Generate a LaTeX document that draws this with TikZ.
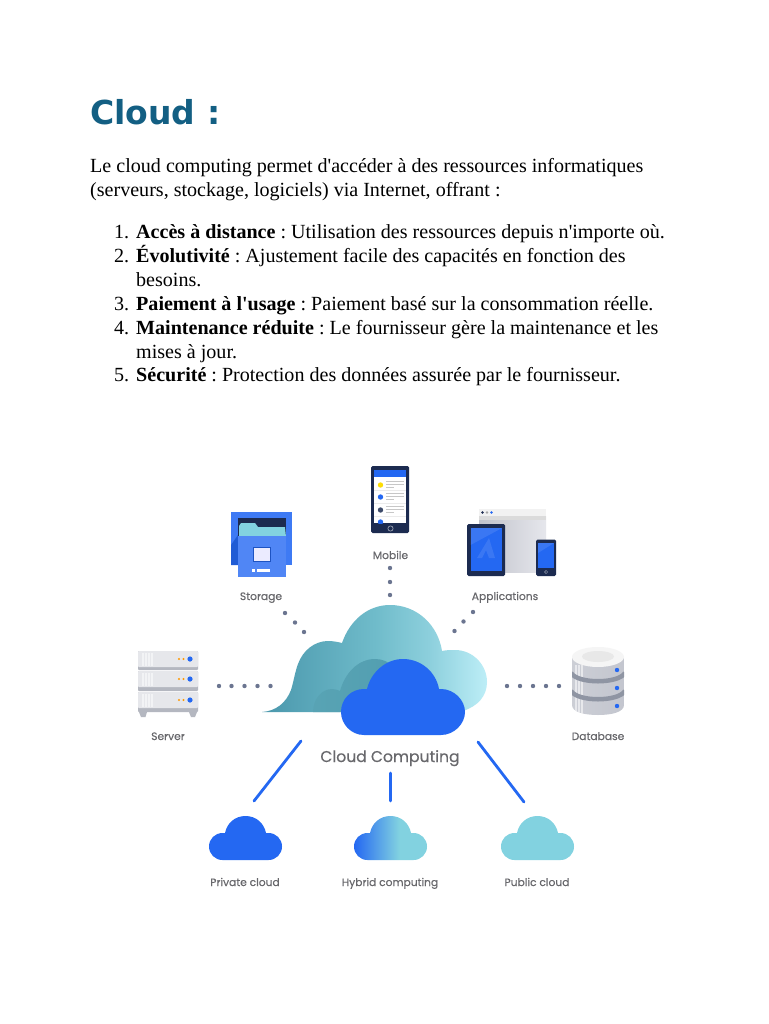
\documentclass[tikz,border=0pt]{standalone}
\usepackage{fontspec}
\setmainfont[Ligatures=TeXOff]{Liberation Serif}
\newfontfamily\titlefont{DejaVu Sans}
\newfontfamily\labelfont[RawFeature={embolden=0.35}]{Poppins}
\definecolor{cblue}{HTML}{2468F2}
\definecolor{cteal}{HTML}{82D2E0}
\definecolor{cnavy}{HTML}{1C2B50}
\definecolor{cdot}{HTML}{6B7590}
\definecolor{ctitle}{HTML}{135F83}
\definecolor{clabel}{HTML}{68686C}
\definecolor{ma}{HTML}{4A97AC}
\definecolor{mb}{HTML}{6FBBCA}
\definecolor{mc}{HTML}{8CCFDC}
\definecolor{md}{HTML}{BDEEF7}
\definecolor{ia}{HTML}{5BA6B6}
\definecolor{ib}{HTML}{4F9BAE}
\definecolor{ba}{HTML}{C0C2CB}
\definecolor{bb}{HTML}{E6E7EC}
\definecolor{da}{HTML}{D0D2D9}
\definecolor{db}{HTML}{BFC2CB}
\definecolor{band}{HTML}{8F95A3}
\definecolor{sband}{HTML}{B4B7C0}
\definecolor{sunit}{HTML}{E6E7EB}
\pgfdeclarehorizontalshading{mainshade}{100bp}{color(0bp)=(ma);color(25bp)=(ma);color(50bp)=(mb);color(62bp)=(mc);color(75bp)=(md);color(100bp)=(md)}
\pgfdeclarehorizontalshading{hybridshade}{100bp}{color(0bp)=(cblue);color(25bp)=(cblue);color(56bp)=(cteal);color(100bp)=(cteal)}
\pgfdeclarehorizontalshading{innershade}{100bp}{color(0bp)=(ia);color(100bp)=(ib)}
\pgfdeclarehorizontalshading{backshade}{100bp}{color(0bp)=(ba);color(25bp)=(ba);color(75bp)=(bb);color(100bp)=(bb)}
\pgfdeclarehorizontalshading{drumshade}{100bp}{color(0bp)=(da);color(100bp)=(db)}
\tikzset{
  body/.style={anchor=base west,inner sep=0pt,font=\fontsize{20.07}{24}\selectfont\frenchspacing,text=black},
  toplabel/.style={anchor=base,inner sep=0pt,text=clabel,font=\labelfont\fontsize{10.7}{13}\selectfont},
  dotnode/.style={circle,fill=cdot,inner sep=0pt,minimum size=4.4pt},
  link/.style={draw=cblue,line width=2.8pt,line cap=round},
  navybox/.style={fill=cnavy,rounded corners=1.5pt},
}
\newcommand{\smallcloudpath}{(13.5,44) .. controls (6,44) and (0,38) .. (0,30.5) .. controls (0,23) and (6,17) .. (13.5,17) -- (16,17) .. controls (18,7) and (26,0) .. (36.5,0) .. controls (47,0) and (55,7) .. (57,17) -- (59.5,17) .. controls (67,17) and (73,23) .. (73,30.5) .. controls (73,38) and (67,44) .. (59.5,44) -- cycle}
\begin{document}
\begin{tikzpicture}[x=1pt,y=-1pt]
\useasboundingbox (0,0) rectangle (768,1024);
\fill[white] (0,0) rectangle (768,1024);
% text
\node[anchor=base west,inner sep=0pt,text=ctitle,font=\titlefont\bfseries\fontsize{33}{38}\selectfont] (title) at (90,125) {Cloud :};
\node[body] (p1) at (90,172.6) {Le cloud computing permet d'accéder à des ressources informatiques};
\node[body] (p2) at (90,196.6) {(serveurs, stockage, logiciels) via Internet, offrant :};
\node[body] (n1) at (114,238) {1.};
\node[body] (l1) at (136,238) {\textbf{Accès à distance} : Utilisation des ressources depuis n'importe où.};
\node[body] (n2) at (114,262) {2.};
\node[body] (l2) at (136,262) {\textbf{Évolutivité} : Ajustement facile des capacités en fonction des};
\node[body] (l2b) at (136,286) {besoins.};
\node[body] (n3) at (114,310) {3.};
\node[body] (l3) at (136,310) {\textbf{Paiement à l'usage} : Paiement basé sur la consommation réelle.};
\node[body] (n4) at (114,334) {4.};
\node[body] (l4) at (136,334) {\textbf{Maintenance réduite} : Le fournisseur gère la maintenance et les};
\node[body] (l4b) at (136,358) {mises à jour.};
\node[body] (n5) at (114,381) {5.};
\node[body] (l5) at (136,381) {\textbf{Sécurité} : Protection des données assurée par le fournisseur.};
% main cloud
\shade[shading=mainshade] (262,712) .. controls (276,711) and (286,703) .. (291,690) .. controls (294,680) and (295,672) .. (298,664) .. controls (303,650) and (315,641) .. (328,641) .. controls (333,641) and (338,642) .. (342,643) .. controls (350,620) and (368,605) .. (390,605) .. controls (417,605) and (438,625) .. (442,651) .. controls (446,650) and (451,650) .. (455,650) .. controls (473,650) and (487,665) .. (487,682) .. controls (487,696) and (478,706) .. (463,711) -- (455,712) -- cycle;
\shade[shading=innershade] (313,712) .. controls (313,700) and (321,689) .. (332,689) .. controls (335,689) and (338,690) .. (340,691) .. controls (345,673) and (358,659) .. (375,659) .. controls (390,659) and (400,670) .. (405,690) -- (405,712) -- cycle;
\fill[cblue] (364,735) .. controls (351,735) and (341,724) .. (341,712) .. controls (341,699) and (351,689) .. (364,689) -- (367,689) .. controls (371,672) and (386,659) .. (403,659) .. controls (421,659) and (436,672) .. (439,689) -- (441,689) .. controls (454,689) and (465,700) .. (465,712) .. controls (465,724) and (454,735) .. (441,735) -- cycle;
% small clouds
\begin{scope}[shift={(209,816)}]\fill[cblue] \smallcloudpath;\end{scope}
\begin{scope}[shift={(354,816)}]\shade[shading=hybridshade] \smallcloudpath;\end{scope}
\begin{scope}[shift={(501,816)}]\fill[cteal] \smallcloudpath;\end{scope}
% storage
\fill[cblue!88!white] (231,512) rectangle (292,565);
\fill[cblue!88!black] (231,545) -- (238,535) -- (238,565) -- (231,565) -- cycle;
\fill[cnavy] (238,518) rectangle (286,537);
\fill[cteal] (239,537) -- (239,526) -- (241,523) -- (255,523) -- (258,527) -- (285,527) -- (286,537) -- cycle;
\fill[cblue!80!white] (238,536) rectangle (286,577);
\filldraw[fill=white!92!blue,draw=cblue!80!black,line width=.8pt] (253,547) rectangle (270,561);
\fill[white] (252,569) rectangle (254.5,571.5);
\fill[white] (257,569) rectangle (270,571.5);
% mobile
\fill[navybox] (371,466) rectangle (409,533);
\fill[white] (374,470) rectangle (406,523);
\fill[cblue] (374,470) rectangle (406,477);
\fill[yellow!80!orange] (380.5,485) circle[radius=2.7pt];
\fill[cblue] (380.5,497) circle[radius=2.7pt];
\fill[cnavy!85!white] (380.5,510) circle[radius=2.7pt];
\begin{scope}
\clip (374,470) rectangle (406,523);
\fill[cblue] (380.5,522) circle[radius=2.7pt];
\end{scope}
\foreach \yy in {481,493,506}{
  \draw[black!22,line width=.7pt] (386,\yy) -- (404,\yy) (386,\yy+3) -- (404,\yy+3) (386,\yy+6) -- (394,\yy+6);}
\draw[black!8,line width=.5pt] (374,490) -- (406,490) (374,503) -- (406,503) (374,516) -- (406,516);
\draw[white!55!cnavy,line width=.7pt] (390.5,528.5) circle[radius=2.6pt];
% applications
\shade[shading=backshade] (479,516) rectangle (546,572);
\fill[black!5] (479,509) rectangle (546,516);
\fill[black!14] (479,516) rectangle (546,520);
\fill[cnavy] (482.5,512.5) circle[radius=1.4pt];
\fill[black!35] (487,512.5) circle[radius=1.4pt];
\fill[cblue] (491.5,512.5) circle[radius=1.4pt];
\fill[navybox] (467,524) rectangle (505,576);
\fill[cblue] (470.5,528) rectangle (502,571);
\fill[white,opacity=.1] (470.5,528) -- (502,528) -- (470.5,545) -- cycle;
\fill[white,opacity=.1] (477,558) -- (489,538) -- (495,558) -- (489,558) -- (486,550) -- (482,558) -- cycle;
\fill[navybox] (536,539.5) rectangle (556,576);
\fill[cblue] (538,543) rectangle (554,568);
\fill[white,opacity=.1] (538,543) -- (554,543) -- (538,553) -- cycle;
\draw[white!55!cnavy,line width=.5pt] (546,572) circle[radius=1.6pt];
% server
\foreach \ya/\yb/\yc in {651/667/670,671/687/691,692/708/712}{
  \fill[sband,rounded corners=1pt] (138,\ya) rectangle (198,\yc);
  \fill[sunit,rounded corners=1pt] (138,\ya) rectangle (198,\yb);
  \foreach \sx in {142,145,148,151}{\fill[white,opacity=.5] (\sx,\ya+1.5) rectangle (\sx+1.6,\yb-1.5);}
  \fill[cblue] (190,\ya/2+\yb/2) circle[radius=2.6pt];
  \fill[orange!80!yellow] (179,\ya/2+\yb/2) circle[radius=1.1pt];
  \fill[orange!80!yellow] (183.5,\ya/2+\yb/2) circle[radius=1.1pt];
}
\fill[sband] (139,712) -- (147,712) -- (145.5,717) -- (141,717) -- cycle;
\fill[sband] (189,712) -- (197,712) -- (195,717) -- (191,717) -- cycle;
% database
\begin{scope}
\clip (572,657) -- (572,705) .. controls (572,712) and (584,715) .. (598,715) .. controls (612,715) and (624,712) .. (624,705) -- (624,657) -- cycle;
\shade[shading=drumshade] (572,650) rectangle (624,716);
\foreach \sx in {575,578,581}{\fill[white,opacity=.55] (\sx,665) rectangle (\sx+1.5,715);}
\draw[band,line width=4.5pt] (571,673) .. controls (578,684) and (618,684) .. (625,673);
\draw[band,line width=4.5pt] (571,691) .. controls (578,702) and (618,702) .. (625,691);
\end{scope}
\fill[black!4] (598,657) ellipse[x radius=26pt,y radius=10pt];
\fill[black!9] (598,656.5) ellipse[x radius=16pt,y radius=5.5pt];
\fill[cblue] (617,670) circle[radius=2.2pt];
\fill[cblue] (617,688) circle[radius=2.2pt];
\fill[cblue] (617,706) circle[radius=2.2pt];
% labels
\node[toplabel] (storage) at (261,600) {Storage};
\node[toplabel] (mobile) at (390.5,559) {Mobile};
\node[toplabel] (apps) at (505,600) {Applications};
\node[toplabel] (server) at (168,740) {Server};
\node[toplabel] (database) at (598,740) {Database};
\node[toplabel,font=\labelfont\fontsize{15.6}{19}\selectfont] (cc) at (390,762) {Cloud Computing};
\node[toplabel] (private) at (245,886) {Private cloud};
\node[toplabel] (hybrid) at (390,886) {Hybrid computing};
\node[toplabel] (public) at (537,886) {Public cloud};
% dots
\foreach \n/\xx/\yy in {s1/285/613,s2/295/622.5,s3/304/632,v1/219/686,v2/231.5/686,v3/244.5/686,v4/257.5/686,v5/270.5/686,m1/390/568,m2/390/582,m3/390/595,a1/473/612,a2/463.5/621.5,a3/454.5/631,d1/507/686,d2/520/686,d3/533/686,d4/546/686,d5/559/686}{
  \node[dotnode] (\n) at (\xx,\yy) {};
}
% connectors
\coordinate (la) at (301,741); \coordinate (lb) at (254,801);
\coordinate (ca) at (390.4,773); \coordinate (cb) at (390.4,801);
\coordinate (ra) at (478,742); \coordinate (rb) at (524,802);
\draw[link] (la) -- (lb);
\draw[link] (ca) -- (cb);
\draw[link] (ra) -- (rb);
\end{tikzpicture}
\end{document}
